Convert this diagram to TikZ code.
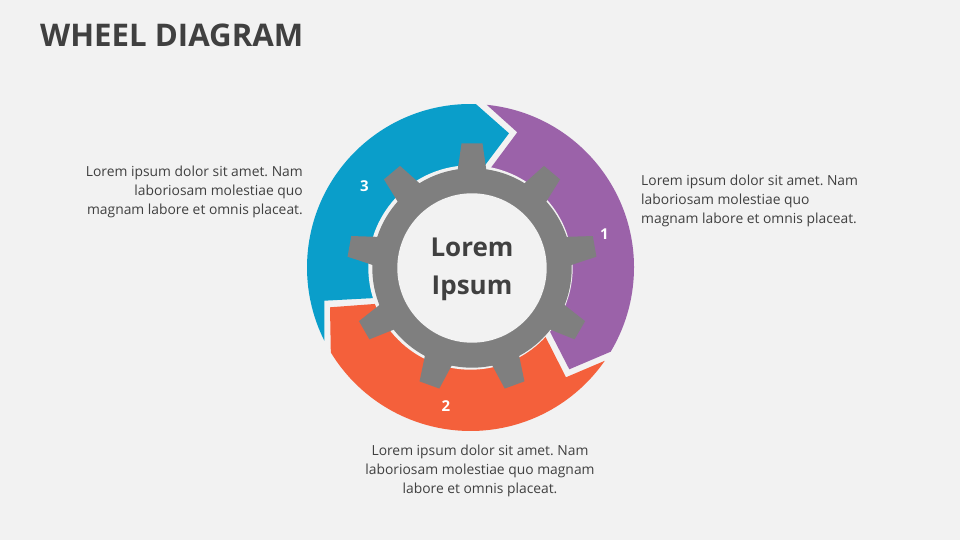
\documentclass[tikz,border=0pt]{standalone}
\usepackage{fontspec}
\setmainfont{Open Sans}
\definecolor{pagebg}{HTML}{F2F2F2}
\definecolor{inkgrey}{HTML}{404040}
\definecolor{gearcol}{HTML}{7F7F7F}
\definecolor{purplecol}{HTML}{9B62A9}
\definecolor{bluecol}{HTML}{0A9ECA}
\definecolor{orangecol}{HTML}{F4603B}
\begin{document}
\frenchspacing
\begin{tikzpicture}[
        x=1pt, y=1pt,
        title/.style={anchor=west, inner sep=0pt, text=inkgrey, font=\fontsize{31.2}{36}\selectfont\bfseries},
        body/.style={inner sep=0pt, text=inkgrey, font=\fontsize{13.85}{19.4}\selectfont},
        hub/.style={inner sep=0pt, align=center, text=inkgrey, font=\fontsize{26}{38}\selectfont\bfseries},
        num/.style={inner sep=0pt, text=white, font=\fontsize{15}{16}\selectfont\bfseries}
    ]
    \useasboundingbox (0,0) rectangle (960,540);
    \fill[pagebg] (0,0) rectangle (960,540);
    \coordinate (wheel) at (470.5,272.5);
    \coordinate (cog) at (472,272);

    % arrow segments
    \fill[purplecol] (wheel) ++(84.3:163.5) arc[start angle=84.3, end angle=-31, radius=163.5]
        -- (569.3,170.7) -- (546,216) -- (cog) -- (485,364.3) -- (517.3,407.7) -- cycle;
    \fill[bluecol] (wheel) ++(88.1:163.5) arc[start angle=88.1, end angle=206.6, radius=163.5]
        -- (324.3,239.3) -- (385,242.5) -- (cog) -- (480,368) -- (509,406.7) -- cycle;
    \fill[orangecol] (wheel) ++(211.3:163.5) arc[start angle=211.3, end angle=325.2, radius=163.5]
        -- (566,162.7) -- (541,212) -- (cog) -- (385,236.8) -- (330,232.7) -- cycle;

    % gear
    \fill[pagebg] (wheel) circle[radius=102.2];
    \fill[gearcol] (cog) circle[radius=99.7];
    \foreach \a in {90,50,10,-30,-70,-110,-150,170,130} {
        \fill[gearcol, shift={(cog)}, rotate=\a] (90,-15.5) -- (124.5,-10.5) -- (124.5,10.5) -- (90,15.5) -- cycle;
    }
    \fill[pagebg] (cog) circle[radius=74.7];

    \node[title] (head) at (40,505) {WHEEL DIAGRAM};
    \node[hub] (hubtext) at (472,270.5) {Lorem\\Ipsum};
    \node[num] (n1) at (604.5,306) {1};
    \node[num] (n2) at (446,134) {2};
    \node[num] (n3) at (364.5,353.5) {3};

    \node[body, align=left, anchor=west] (text1) at (641,339) {Lorem ipsum dolor sit amet. Nam\\laboriosam molestiae quo\\magnam labore et omnis placeat.};
    \node[body, align=center] (text2) at (480,69) {Lorem ipsum dolor sit amet. Nam\\laboriosam molestiae quo magnam\\labore et omnis placeat.};
    \node[body, align=right, anchor=east] (text3) at (303,348) {Lorem ipsum dolor sit amet. Nam\\laboriosam molestiae quo\\magnam labore et omnis placeat.};
\end{tikzpicture}
\end{document}
